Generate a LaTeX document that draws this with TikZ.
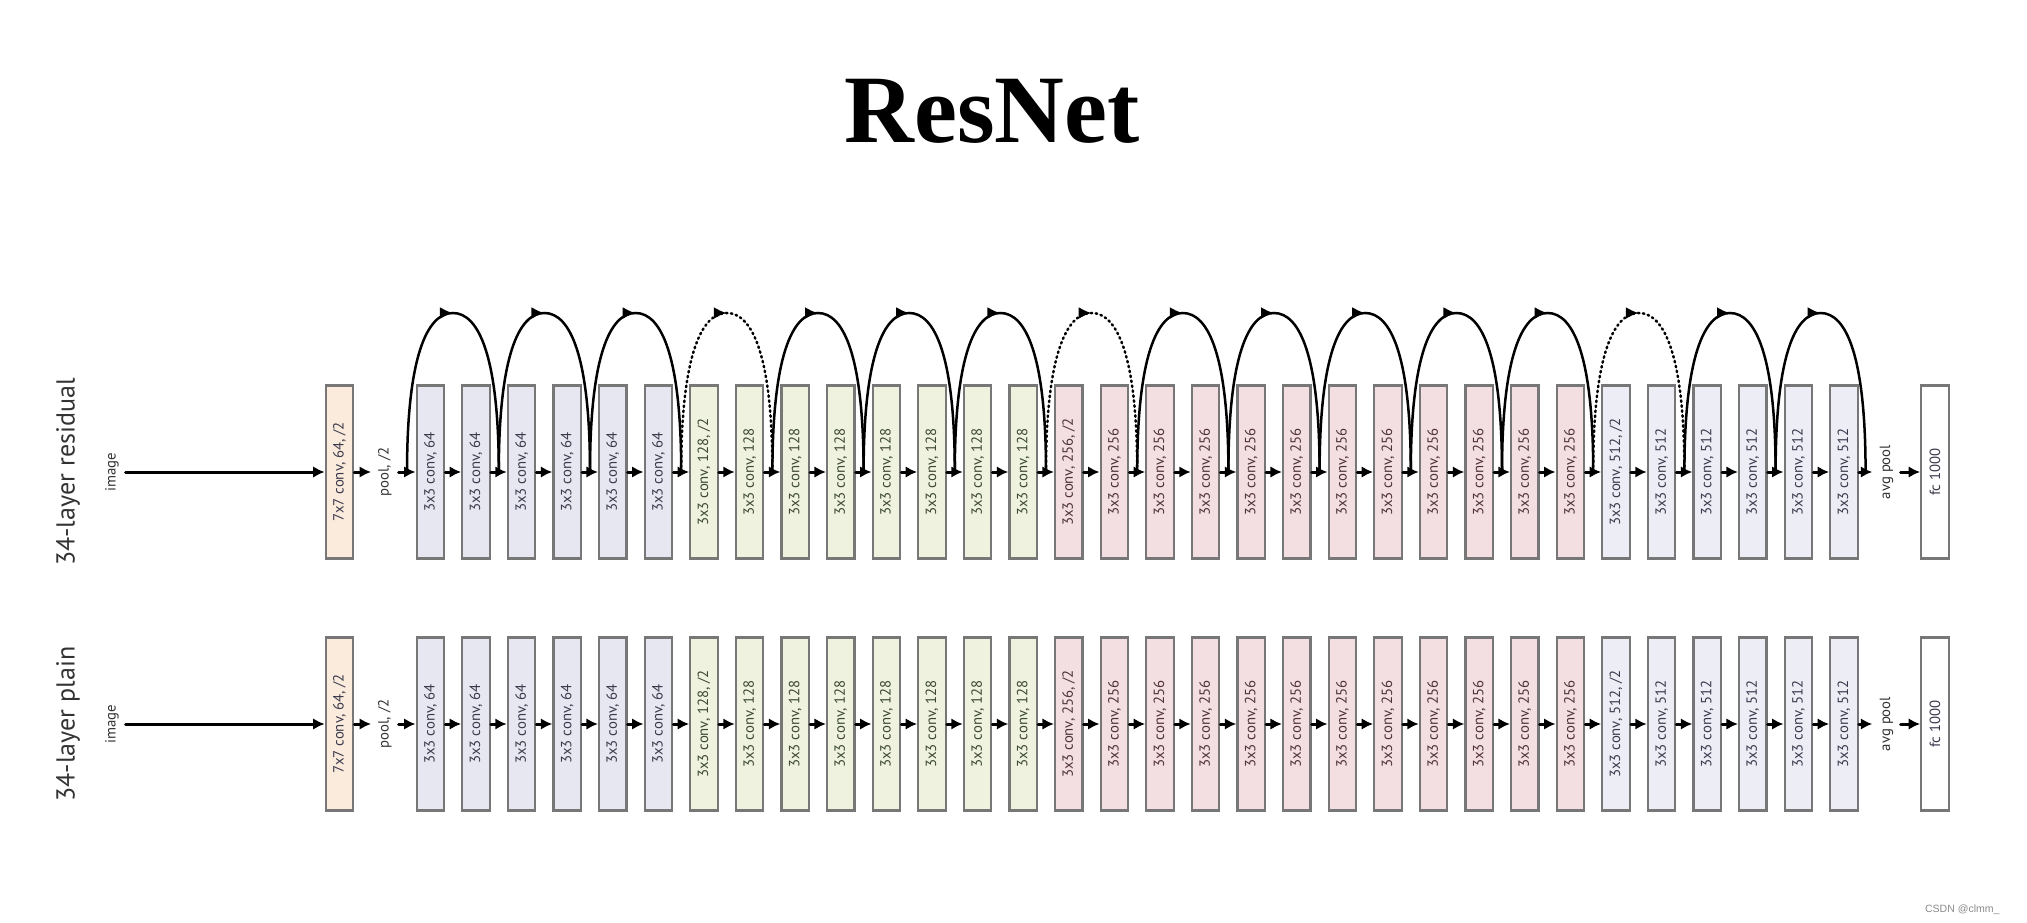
\documentclass[tikz,border=0pt]{standalone}
\usepackage{fontspec}
\setmainfont{PT Sans}
\newfontfamily\titlefont{Liberation Serif}
\newfontfamily\markfont{Liberation Sans}
\usetikzlibrary{arrows.meta, calc, decorations.markings, positioning}

\definecolor{c7x7}{HTML}{FBEBDC}
\definecolor{grp0}{HTML}{E7E7F1}
\definecolor{grp1}{HTML}{EFF2DF}
\definecolor{grp2}{HTML}{F3DEE2}
\definecolor{grp3}{HTML}{EDEDF6}
\definecolor{txt0}{HTML}{3A3A4C}
\definecolor{txt1}{HTML}{3C4832}
\definecolor{txt2}{HTML}{4E3238}
\definecolor{txt3}{HTML}{3A3A4C}
\definecolor{edge}{HTML}{777777}

\newcommand\chan[1]{\ifcase#1 64\or 128\or 256\or 512\fi}

\begin{document}
\begin{tikzpicture}[x=0.1mm, y=-0.1mm, line cap=round,
    box/.style={draw=edge, line width=0.22mm, minimum width=2.75mm, minimum height=17.3mm, inner sep=0pt, font=\fontsize{4.2}{4.2}\selectfont},
    lbl/.style={inner sep=0pt, minimum width=2.6mm, text=black!80, font=\fontsize{4.2}{4.2}\selectfont},
    arr/.style={line width=0.3mm, -{Latex[length=1.15mm, width=1.15mm]}},
    skip/.style={line width=0.25mm, postaction={decorate}, decoration={markings, mark=at position 0.5 with {\arrow{Latex[length=1.3mm, width=1.2mm]}}}},
    proj/.style={skip, dash pattern=on 0.15mm off 0.35mm}]
    \fill[white] (0,0) rectangle (2027,923);
    \useasboundingbox (0,0) rectangle (2027,923);

    \node[font=\titlefont\bfseries\fontsize{27.5}{27.5}\selectfont, anchor=base] (title) at (992,143) {ResNet};

    \foreach \rw/\yy/\name in {r/472/34-layer residual, p/724/34-layer plain} {
        \node[rotate=90, text=black!80, font=\fontsize{7.4}{7.4}\selectfont] (\rw-name) at (68,\yy) {\name};
        \node[lbl] (\rw-img) at (112,\yy) {\rotatebox{90}{image}};
        \node[box, fill=c7x7, text=txt0] (\rw-c0) at (339.5,\yy) {\rotatebox{90}{7x7 conv, 64, /2}};
        \node[lbl] (\rw-pool) at (384.8,\yy) {\rotatebox{90}{pool, /2}};
        \foreach \i in {1,...,32} {
            \pgfmathtruncatemacro\grp{(\i>6)+(\i>14)+(\i>26)}
            \pgfmathtruncatemacro\half{(\i==7)||(\i==15)||(\i==27)}
            \node[box, fill=grp\grp, text=txt\grp] (\rw-c\i) at ({430.4+(\i-1)*45.6},\yy)
                {\rotatebox{90}{3x3 conv, \chan{\grp}\ifnum\half=1 , /2\fi}};
        }
        \node[lbl, minimum width=2.7mm] (\rw-avg) at (1886.5,\yy) {\rotatebox{90}{avg pool}};
        \node[box, fill=white, text=txt0] (\rw-fc) at (1935,\yy) {\rotatebox{90}{fc 1000}};

        % main path
        \draw[arr] (\rw-img) -- (\rw-c0);
        \draw[arr] (\rw-c0) -- (\rw-pool);
        \draw[arr] (\rw-pool) -- (\rw-c1);
        \foreach \i [evaluate=\i as \j using int(\i+1)] in {1,...,31}
            \draw[arr] (\rw-c\i) -- (\rw-c\j);
        \draw[arr] (\rw-c32) -- (\rw-avg);
        \draw[arr] (\rw-avg) -- (\rw-fc);
    }

    % shortcuts, residual row only
    \coordinate (g0) at ($(r-pool.east)!0.5!(r-c1.west)$);
    \foreach \i [evaluate=\i as \j using int(\i+1)] in {1,...,31}
        \coordinate (g\i) at ($(r-c\i.east)!0.5!(r-c\j.west)$);
    \coordinate (g32) at ($(r-c32.east)!0.5!(r-avg.west)$);
    \foreach \b/\kind in {1/skip,3/skip,5/skip,7/proj,9/skip,11/skip,13/skip,15/proj,
                          17/skip,19/skip,21/skip,23/skip,25/skip,27/proj,29/skip,31/skip} {
        \pgfmathtruncatemacro\ga{\b-1}
        \pgfmathtruncatemacro\gb{\b+1}
        \draw[\kind] (g\ga) .. controls +(0,-115) and +(-26,0) .. ($(g\ga)!0.5!(g\gb)+(0,-159)$)
            .. controls +(26,0) and +(0,-115) .. (g\gb);
    }

    \node[text=black!45, font=\markfont\fontsize{3}{3}\selectfont, anchor=base east] (mark) at (2012,912) {CSDN @clmm\_};
\end{tikzpicture}
\end{document}
